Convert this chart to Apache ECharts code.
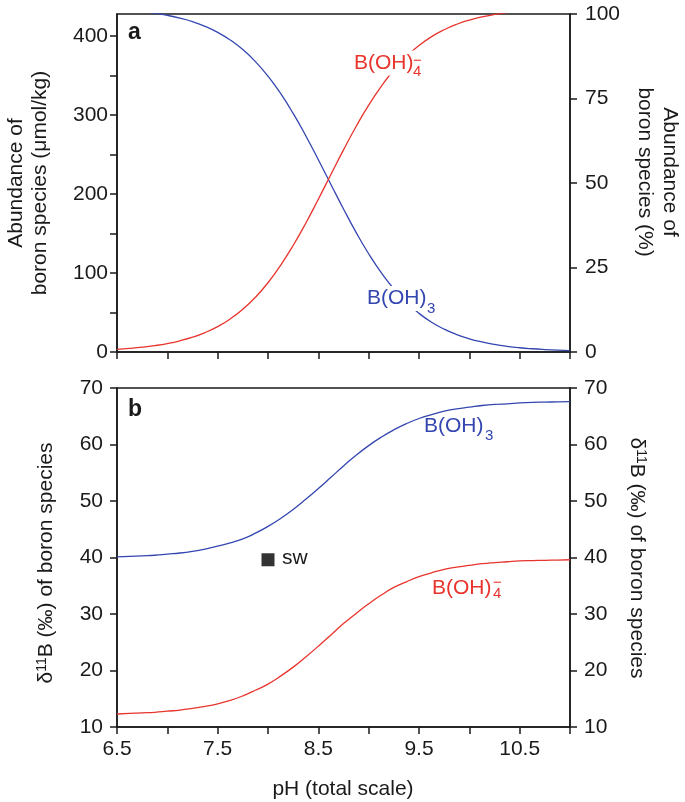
<!DOCTYPE html>
<html>
<head>
<meta charset="utf-8">
<script src="https://cdn.jsdelivr.net/npm/echarts@6/dist/echarts.min.js"></script>
<style>
html,body{margin:0;padding:0;background:#fff;}
#chart{width:685px;height:802px;}
</style>
</head>
<body>
<div id="chart"></div>
<script>
// pH (total scale)
const pH = [6.5, 6.625, 6.75, 6.875, 7.0, 7.125, 7.25, 7.375, 7.5, 7.625, 7.75, 7.875, 8.0, 8.125, 8.25, 8.375,
            8.5, 8.625, 8.75, 8.875, 9.0, 9.125, 9.25, 9.375, 9.5, 9.625, 9.75, 9.875, 10.0, 10.125, 10.25, 10.375,
            10.5, 10.625, 10.75, 10.875, 11.0];
// Panel a: abundance of boron species (µmol/kg)
const boh3Abundance = [433.6, 432.4, 430.9, 428.9, 426.3, 422.8, 418.3, 412.4, 404.8, 395.1, 382.9, 367.7, 349.3, 327.4, 302.1, 273.9,
                       243.5, 212.2, 181.1, 151.5, 124.4, 100.5, 79.9, 62.8, 48.9, 37.7, 28.9, 22.0, 16.7, 12.7, 9.6, 7.2,
                       5.4, 4.1, 3.1, 2.3, 1.7];
const boh4Abundance = [3.4, 4.6, 6.1, 8.1, 10.7, 14.2, 18.7, 24.6, 32.2, 41.9, 54.1, 69.3, 87.7, 109.7, 134.9, 163.1,
                       193.5, 224.8, 255.9, 285.5, 312.6, 336.5, 357.1, 374.2, 388.1, 399.3, 408.1, 415.0, 420.3, 424.3, 427.4, 429.8,
                       431.6, 432.9, 433.9, 434.7, 435.3];
// Panel b: delta11B of boron species (permil)
const boh3Delta = [40.1, 40.2, 40.3, 40.4, 40.6, 40.8, 41.1, 41.5, 42.0, 42.6, 43.3, 44.3, 45.5, 46.9, 48.5, 50.3,
                   52.2, 54.2, 56.2, 58.1, 59.8, 61.3, 62.6, 63.7, 64.6, 65.3, 65.9, 66.3, 66.6, 66.9, 67.1, 67.2,
                   67.35, 67.45, 67.5, 67.55, 67.6];
const boh4Delta = [12.3, 12.4, 12.5, 12.6, 12.8, 13.0, 13.3, 13.65, 14.1, 14.7, 15.5, 16.5, 17.6, 19.0, 20.6, 22.4,
                   24.3, 26.3, 28.3, 30.1, 31.8, 33.35, 34.7, 35.7, 36.6, 37.3, 37.9, 38.3, 38.6, 38.9, 39.1, 39.25,
                   39.4, 39.45, 39.5, 39.55, 39.6];
// Seawater point [pH, delta11B]
const swPoint = [8.0, 39.6];
// Tick values
const abundTicks = [0, 50, 100, 150, 200, 250, 300, 350, 400];
const abundLabels = [0, 100, 200, 300, 400];
const percentTicks = [0, 25, 50, 75, 100];

const BLUE = '#3446b0';
const RED = '#e8342c';
const INK = '#1a1a1a';
const FONT = 'Liberation Sans, Arial, Helvetica, sans-serif';
const FS = 21;

const chart = echarts.init(document.getElementById('chart'), null, {renderer: 'canvas'});

const pair = arr => pH.map((x, i) => [x, arr[i]]);

function xAx(gridIndex, showLabels) {
  return {
    type: 'value', gridIndex, min: 6.5, max: 11, interval: 0.5,
    axisLine: {show: true, lineStyle: {color: INK, width: 1.5}},
    axisTick: {show: true, inside: false, length: 7, lineStyle: {color: INK, width: 1.5}},
    splitLine: {show: false},
    axisLabel: {
      show: showLabels, margin: 12, color: INK, fontSize: FS, fontFamily: FONT,
      formatter: v => (Math.abs(((v - 6.5) % 1)) < 1e-6 ? v.toFixed(1) : '')
    }
  };
}
function yAx(gridIndex, pos, min, max, interval, margin, tickVals, labelVals) {
  const ax = {
    type: 'value', gridIndex, position: pos, min, max, interval,
    axisLine: {show: true, onZero: false, lineStyle: {color: INK, width: 1.5}},
    axisTick: {show: true, inside: false, length: 7, lineStyle: {color: INK, width: 1.5}},
    splitLine: {show: false},
    axisLabel: {show: true, margin, color: INK, fontSize: FS, fontFamily: FONT}
  };
  if (tickVals) ax.axisTick.customValues = tickVals;
  if (labelVals) ax.axisLabel.customValues = labelVals;
  return ax;
}

function txt(x, y, text, opts) {
  return {
    type: 'text', x, y, z: 100,
    rotation: (opts && opts.rotation) || 0,
    style: Object.assign({
      text, fill: INK, fontSize: FS, fontFamily: FONT,
      align: 'left', verticalAlign: 'middle'
    }, (opts && opts.style) || {})
  };
}

const deltaTitle = '{n|δ}{s|11}{n|B (‰) of boron species}';
const deltaRich = {
  n: {fontSize: FS, fontFamily: FONT, fill: INK, color: INK},
  s: {fontSize: 14, fontFamily: FONT, fill: INK, color: INK, verticalAlign: 'top'}
};

const option = {
  animation: false,
  backgroundColor: '#fff',
  grid: [
    {left: 117, right: 115, top: 14, height: 338, show: true, borderColor: INK, borderWidth: 1.5, backgroundColor: 'transparent'},
    {left: 117, right: 115, top: 388, height: 339, show: true, borderColor: INK, borderWidth: 1.5, backgroundColor: 'transparent'}
  ],
  xAxis: [xAx(0, false), xAx(1, true)],
  yAxis: [
    yAx(0, 'left', 0, 428, 50, 9, abundTicks, abundLabels),
    yAx(0, 'right', 0, 100, 25, 15, percentTicks, percentTicks),
    yAx(1, 'left', 10, 70, 10, 14),
    yAx(1, 'right', 10, 70, 10, 14)
  ],
  series: [
    {type: 'line', xAxisIndex: 0, yAxisIndex: 0, data: pair(boh3Abundance), smooth: true, showSymbol: false, clip: true,
     lineStyle: {color: BLUE, width: 1.3}, itemStyle: {color: BLUE}},
    {type: 'line', xAxisIndex: 0, yAxisIndex: 0, data: pair(boh4Abundance), smooth: true, showSymbol: false, clip: true,
     lineStyle: {color: RED, width: 1.3}, itemStyle: {color: RED}},
    {type: 'line', xAxisIndex: 1, yAxisIndex: 2, data: pair(boh3Delta), smooth: true, showSymbol: false, clip: true,
     lineStyle: {color: BLUE, width: 1.3}, itemStyle: {color: BLUE}},
    {type: 'line', xAxisIndex: 1, yAxisIndex: 2, data: pair(boh4Delta), smooth: true, showSymbol: false, clip: true,
     lineStyle: {color: RED, width: 1.3}, itemStyle: {color: RED}},
    {type: 'scatter', xAxisIndex: 1, yAxisIndex: 2, data: [swPoint], symbol: 'rect', symbolSize: 13,
     itemStyle: {color: '#000'}}
  ],
  graphic: [
    // panel letters
    txt(128, 33, 'a', {style: {fontWeight: 'bold', fontSize: 23}}),
    txt(128, 410, 'b', {style: {fontWeight: 'bold', fontSize: 23}}),
    // panel a axis titles
    txt(16, 183, 'Abundance of', {rotation: Math.PI / 2, style: {align: 'center'}}),
    txt(40, 183, 'boron species (μmol/kg)', {rotation: Math.PI / 2, style: {align: 'center'}}),
    txt(670, 172, 'Abundance of', {rotation: -Math.PI / 2, style: {align: 'center'}}),
    txt(645, 172, 'boron species (%)', {rotation: -Math.PI / 2, style: {align: 'center'}}),
    // panel b axis titles
    {type: 'text', x: 46, y: 563, rotation: Math.PI / 2, z: 100,
     style: {text: deltaTitle, rich: deltaRich, fill: INK, fontSize: FS, fontFamily: FONT, align: 'center', verticalAlign: 'middle'}},
    {type: 'text', x: 637, y: 558, rotation: -Math.PI / 2, z: 100,
     style: {text: deltaTitle, rich: deltaRich, fill: INK, fontSize: FS, fontFamily: FONT, align: 'center', verticalAlign: 'middle'}},
    // x axis title
    txt(343, 789, 'pH (total scale)', {style: {align: 'center'}}),
    // panel a curve labels (white backing breaks the curve like the original)
    txt(352, 63, 'B(OH)', {style: {fill: RED, backgroundColor: '#fff', padding: [2, 2, 2, 2]}}),
    txt(413, 71.5, '4', {style: {fill: RED, fontSize: 15}}),
    txt(413, 61, '−', {style: {fill: RED, fontSize: 15}}),
    txt(365, 298.5, 'B(OH)', {style: {fill: BLUE, backgroundColor: '#fff', padding: [2, 2, 2, 2]}}),
    txt(427, 308.5, '3', {style: {fill: BLUE, fontSize: 15}}),
    // panel b curve labels
    txt(424, 426.5, 'B(OH)', {style: {fill: BLUE}}),
    txt(485, 436, '3', {style: {fill: BLUE, fontSize: 15}}),
    txt(432, 588.5, 'B(OH)', {style: {fill: RED}}),
    txt(493, 594, '4', {style: {fill: RED, fontSize: 15}}),
    txt(493, 583, '−', {style: {fill: RED, fontSize: 15}}),
    // seawater label
    txt(282, 558, 'sw', {style: {fontSize: 21}})
  ]
};
chart.setOption(option);
</script>
</body>
</html>
